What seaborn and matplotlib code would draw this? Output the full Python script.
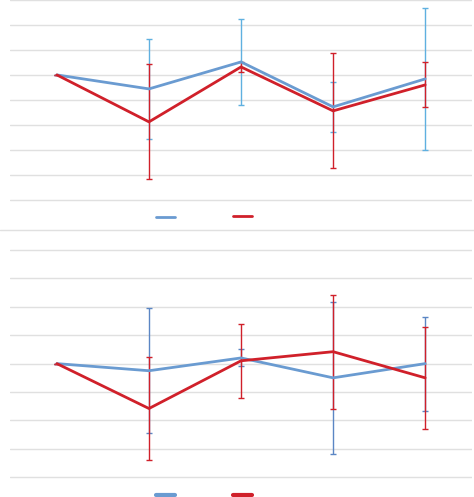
import matplotlib
matplotlib.use("Agg")
import matplotlib.pyplot as plt
import seaborn as sns
import numpy as np
import pandas as pd
from matplotlib.lines import Line2D

sns.set_style("white")

x = [0, 1, 2, 3, 4]
top_blue = [5.0, 4.44, 5.52, 3.72, 4.84]
top_blue_err = [0, 2.0, 1.72, 1.0, 2.84]
top_red = [5.0, 3.12, 5.32, 3.56, 4.6]
top_red_err = [0, 2.3, 0.2, 2.3, 0.9]
bot_blue = [4.0, 3.75, 4.2, 3.5, 4.0]
bot_blue_err = [0, 2.2, 0.3, 2.67, 1.65]
bot_red = [4.0, 2.42, 4.1, 4.42, 3.5]
bot_red_err = [0, 1.8, 1.3, 2.0, 1.8]

BLUE = "#6a9bd1"
RED = "#d0202a"

fig = plt.figure(figsize=(4.74, 4.97), dpi=100)
ax1 = fig.add_axes([0.021, 0.594, 0.975, 0.406])
ax2 = fig.add_axes([0.021, 0.034, 0.975, 0.483])

def panel(ax, b, be, r, re, ylim, ecb):
    df = pd.DataFrame({"x": x * 2, "y": b + r, "s": ["b"] * 5 + ["r"] * 5})
    ax.errorbar(x, b, yerr=be, fmt="none", ecolor=ecb, elinewidth=1, capsize=2)
    ax.errorbar(x, r, yerr=re, fmt="none", ecolor=RED, elinewidth=1, capsize=2)
    sns.lineplot(data=df, x="x", y="y", hue="s", palette={"b": BLUE, "r": RED},
                 ax=ax, legend=False, linewidth=2)
    ax.set_xlim(-0.51, 4.51)
    ax.set_ylim(*ylim)
    ax.set_yticks(range(0, int(ylim[1]) + 1))
    ax.grid(axis="y", color="#e0e0e0", linewidth=1)
    ax.set_xticks([])
    ax.set_yticklabels([])
    ax.tick_params(left=False)
    ax.set_xlabel("")
    ax.set_ylabel("")
    for s in ax.spines.values():
        s.set_visible(False)

panel(ax1, top_blue, top_blue_err, top_red, top_red_err, (-0.08, 8), "#5fb0e0")
panel(ax2, bot_blue, bot_blue_err, bot_red, bot_red_err, (-0.1, 8.35), "#5b86c4")

def fy(py):
    return 1 - py / 497

fig.add_artist(Line2D([0, 1], [fy(230), fy(230)], color="#e0e0e0", lw=1))
fig.add_artist(Line2D([156 / 474, 175 / 474], [fy(217), fy(217)], color=BLUE, lw=2))
fig.add_artist(Line2D([233 / 474, 252 / 474], [fy(216), fy(216)], color=RED, lw=2))
fig.add_artist(Line2D([156 / 474, 175 / 474], [fy(495), fy(495)], color=BLUE, lw=3))
fig.add_artist(Line2D([233 / 474, 252 / 474], [fy(495), fy(495)], color=RED, lw=3))

fig.savefig("out.png", dpi=100)
